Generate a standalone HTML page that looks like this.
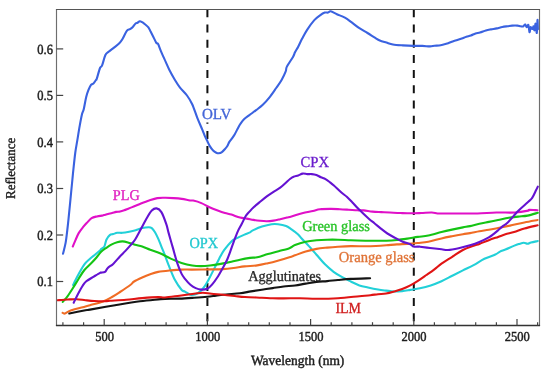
<!DOCTYPE html>
<html><head><meta charset="utf-8"><style>
html,body{margin:0;padding:0;background:#fff;}
svg{display:block;font-family:"Liberation Serif", serif;text-rendering:geometricPrecision;will-change:transform;}
</style></head><body>
<svg width="550" height="373" viewBox="0 0 550 373">
<rect x="0" y="0" width="550" height="373" fill="#fff"/>
<line x1="207.4" y1="9.3" x2="207.4" y2="325.5" stroke="#111" stroke-width="2" stroke-dasharray="8 7.2"/>
<line x1="413.8" y1="9.3" x2="413.8" y2="325.5" stroke="#111" stroke-width="2" stroke-dasharray="8 7.2"/>
<rect x="200" y="105.7" width="33" height="16.8" fill="#fff"/>
<rect x="187" y="232" width="33" height="19" fill="#fff"/>
<path d="M63.00,253.80 C63.43,251.98 64.88,246.87 65.60,242.90 C66.32,238.93 66.80,234.13 67.30,230.00 C67.80,225.87 68.07,223.30 68.60,218.10 C69.13,212.90 69.87,205.23 70.50,198.80 C71.13,192.37 71.92,184.40 72.40,179.50 C72.88,174.60 72.92,173.90 73.40,169.40 C73.88,164.90 74.65,157.33 75.30,152.50 C75.95,147.67 76.57,144.83 77.30,140.40 C78.03,135.97 78.90,130.33 79.70,125.90 C80.50,121.47 81.42,116.62 82.10,113.80 C82.78,110.98 83.12,111.82 83.80,109.00 C84.48,106.18 85.40,100.12 86.20,96.90 C87.00,93.68 87.80,91.72 88.60,89.70 C89.40,87.68 90.20,85.82 91.00,84.80 C91.80,83.78 92.58,84.40 93.40,83.60 C94.22,82.80 95.33,80.82 95.90,80.00 C96.47,79.18 96.12,80.70 96.80,78.70 C97.48,76.70 99.12,70.22 100.00,68.00 C100.88,65.78 101.20,67.57 102.10,65.40 C103.00,63.23 104.32,57.27 105.40,55.00 C106.48,52.73 107.17,53.03 108.60,51.80 C110.03,50.57 112.22,49.02 114.00,47.60 C115.78,46.18 117.88,44.73 119.30,43.30 C120.72,41.87 121.25,41.08 122.50,39.00 C123.75,36.92 125.55,32.45 126.80,30.80 C128.05,29.15 129.00,29.75 130.00,29.10 C131.00,28.45 131.87,27.83 132.80,26.90 C133.73,25.97 134.82,24.18 135.60,23.50 C136.38,22.82 136.80,23.17 137.50,22.80 C138.20,22.43 139.02,21.40 139.80,21.30 C140.58,21.20 141.33,21.70 142.20,22.20 C143.07,22.70 143.97,23.45 145.00,24.30 C146.03,25.15 147.47,26.08 148.40,27.30 C149.33,28.52 149.75,29.95 150.60,31.60 C151.45,33.25 152.55,35.33 153.50,37.20 C154.45,39.07 155.53,41.65 156.30,42.80 C157.07,43.95 157.32,42.68 158.10,44.10 C158.88,45.52 159.75,48.38 161.00,51.30 C162.25,54.22 164.20,58.48 165.60,61.60 C167.00,64.72 167.87,66.98 169.40,70.00 C170.93,73.02 173.03,76.77 174.80,79.70 C176.57,82.63 177.97,84.97 180.00,87.60 C182.03,90.23 184.97,92.73 187.00,95.50 C189.03,98.27 190.47,100.43 192.20,104.20 C193.93,107.97 195.67,113.75 197.40,118.10 C199.13,122.45 201.33,127.25 202.60,130.30 C203.87,133.35 204.20,134.57 205.00,136.40 C205.80,138.23 206.60,139.68 207.40,141.30 C208.20,142.92 208.85,144.57 209.80,146.10 C210.75,147.63 212.02,149.40 213.10,150.50 C214.18,151.60 215.37,152.23 216.30,152.70 C217.23,153.17 217.77,153.40 218.70,153.30 C219.63,153.20 220.83,152.83 221.90,152.10 C222.97,151.37 224.17,149.97 225.10,148.90 C226.03,147.83 226.82,146.83 227.50,145.70 C228.18,144.57 228.52,143.23 229.20,142.10 C229.88,140.97 230.67,140.22 231.60,138.90 C232.53,137.58 233.82,135.85 234.80,134.20 C235.78,132.55 236.58,130.70 237.50,129.00 C238.42,127.30 239.22,125.63 240.30,124.00 C241.38,122.37 242.48,120.68 244.00,119.20 C245.52,117.72 247.38,116.60 249.40,115.10 C251.42,113.60 253.87,111.92 256.10,110.20 C258.33,108.48 260.57,106.93 262.80,104.80 C265.03,102.67 267.27,100.20 269.50,97.40 C271.73,94.60 274.18,90.90 276.20,88.00 C278.22,85.10 280.02,82.77 281.60,80.00 C283.18,77.23 284.82,73.63 285.70,71.40 C286.58,69.17 285.68,69.02 286.90,66.60 C288.12,64.18 291.65,59.28 293.00,56.90 C294.35,54.52 294.13,54.00 295.00,52.30 C295.87,50.60 297.00,48.98 298.20,46.70 C299.40,44.42 300.72,41.42 302.20,38.60 C303.68,35.78 305.08,32.88 307.10,29.80 C309.12,26.72 312.15,22.52 314.30,20.10 C316.45,17.68 318.25,16.55 320.00,15.30 C321.75,14.05 323.47,13.05 324.80,12.60 C326.13,12.15 327.02,12.82 328.00,12.60 C328.98,12.38 329.22,11.03 330.70,11.30 C332.18,11.57 334.53,13.13 336.90,14.20 C339.27,15.27 342.48,16.37 344.90,17.70 C347.32,19.03 348.98,20.45 351.40,22.20 C353.82,23.95 356.72,26.40 359.40,28.20 C362.08,30.00 364.92,31.42 367.50,33.00 C370.08,34.58 372.85,36.45 374.90,37.70 C376.95,38.95 377.88,39.68 379.80,40.50 C381.72,41.32 384.22,41.93 386.40,42.60 C388.58,43.27 390.18,44.03 392.90,44.50 C395.62,44.97 399.28,45.17 402.70,45.40 C406.12,45.63 410.12,45.82 413.40,45.90 C416.68,45.98 419.63,45.82 422.40,45.90 C425.17,45.98 427.98,46.43 430.00,46.40 C432.02,46.37 432.98,45.85 434.50,45.70 C436.02,45.55 437.58,45.70 439.10,45.50 C440.62,45.30 442.08,44.88 443.60,44.50 C445.12,44.12 446.68,43.72 448.20,43.20 C449.72,42.68 451.18,41.93 452.70,41.40 C454.22,40.87 455.78,40.48 457.30,40.00 C458.82,39.52 460.28,39.03 461.80,38.50 C463.32,37.97 464.88,37.30 466.40,36.80 C467.92,36.30 469.38,36.07 470.90,35.50 C472.42,34.93 473.98,33.90 475.50,33.40 C477.02,32.90 478.27,32.98 480.00,32.50 C481.73,32.02 484.07,31.02 485.90,30.50 C487.73,29.98 489.18,29.75 491.00,29.40 C492.82,29.05 494.92,28.80 496.80,28.40 C498.68,28.00 500.48,27.37 502.30,27.00 C504.12,26.63 506.07,26.43 507.70,26.20 C509.33,25.97 510.47,25.70 512.10,25.60 C513.73,25.50 516.10,25.48 517.50,25.60 C518.90,25.72 519.58,26.17 520.50,26.30 C521.42,26.43 522.42,26.53 523.00,26.40 C523.58,26.27 523.63,25.82 524.00,25.50 C524.37,25.18 524.73,24.20 525.20,24.50 C525.67,24.80 526.27,27.23 526.80,27.30 C527.33,27.37 527.95,24.08 528.40,24.90 C528.85,25.72 529.13,31.80 529.50,32.20 C529.87,32.60 530.25,27.93 530.60,27.30 C530.95,26.67 531.23,28.13 531.60,28.40 C531.97,28.67 532.48,29.25 532.80,28.90 C533.12,28.55 533.22,26.05 533.50,26.30 C533.78,26.55 534.15,30.85 534.50,30.40 C534.85,29.95 535.22,23.17 535.60,23.60 C535.98,24.03 536.48,33.62 536.80,33.00 C537.12,32.38 537.32,20.52 537.50,19.90 C537.68,19.28 537.83,27.73 537.90,29.30" fill="none" stroke="#3a62e0" stroke-width="2.1" stroke-linejoin="round" stroke-linecap="round"/>
<path d="M72.80,246.50 C73.25,245.43 74.52,242.33 75.50,240.10 C76.48,237.87 77.45,235.25 78.70,233.10 C79.95,230.95 81.57,228.98 83.00,227.20 C84.43,225.42 85.87,223.92 87.30,222.40 C88.73,220.88 89.98,219.10 91.60,218.10 C93.22,217.10 95.27,216.82 97.00,216.40 C98.73,215.98 100.83,215.82 102.00,215.60 C103.17,215.38 103.00,215.38 104.00,215.10 C105.00,214.82 106.65,214.23 108.00,213.90 C109.35,213.57 110.75,213.43 112.10,213.10 C113.45,212.77 114.77,212.17 116.10,211.90 C117.43,211.63 118.75,211.77 120.10,211.50 C121.45,211.23 122.85,210.77 124.20,210.30 C125.55,209.83 126.87,209.23 128.20,208.70 C129.53,208.17 130.87,207.63 132.20,207.10 C133.53,206.57 134.90,206.03 136.20,205.50 C137.50,204.97 137.85,204.73 140.00,203.90 C142.15,203.07 146.22,201.47 149.10,200.50 C151.98,199.53 154.57,198.55 157.30,198.10 C160.03,197.65 162.78,197.80 165.50,197.80 C168.22,197.80 170.88,197.92 173.60,198.10 C176.32,198.28 179.07,198.50 181.80,198.90 C184.53,199.30 188.10,200.22 190.00,200.50 C191.90,200.78 191.30,200.17 193.20,200.60 C195.10,201.03 198.68,202.00 201.40,203.10 C204.12,204.20 206.78,205.97 209.50,207.20 C212.22,208.43 215.12,209.53 217.70,210.50 C220.28,211.47 222.72,212.32 225.00,213.00 C227.28,213.68 228.90,213.83 231.40,214.60 C233.90,215.37 237.45,216.93 240.00,217.60 C242.55,218.27 244.47,218.22 246.70,218.60 C248.93,218.98 251.17,219.53 253.40,219.90 C255.63,220.27 257.87,220.58 260.10,220.80 C262.33,221.02 264.57,221.23 266.80,221.20 C269.03,221.17 271.27,220.93 273.50,220.60 C275.73,220.27 277.97,219.70 280.20,219.20 C282.43,218.70 285.02,218.05 286.90,217.60 C288.78,217.15 288.95,217.23 291.50,216.50 C294.05,215.77 298.63,214.13 302.20,213.20 C305.77,212.27 309.93,211.57 312.90,210.90 C315.87,210.23 316.97,209.53 320.00,209.20 C323.03,208.87 327.80,208.90 331.10,208.90 C334.40,208.90 336.90,209.07 339.80,209.20 C342.70,209.33 345.58,209.52 348.50,209.70 C351.42,209.88 354.77,210.18 357.30,210.30 C359.83,210.42 361.17,210.18 363.70,210.40 C366.23,210.62 369.58,211.32 372.50,211.60 C375.42,211.88 378.30,211.95 381.20,212.10 C384.10,212.25 386.70,212.35 389.90,212.50 C393.10,212.65 396.92,212.87 400.40,213.00 C403.88,213.13 407.32,213.30 410.80,213.30 C414.28,213.30 417.80,213.13 421.30,213.00 C424.80,212.87 428.68,212.42 431.80,212.50 C434.92,212.58 435.50,213.33 440.00,213.50 C444.50,213.67 452.55,213.50 458.80,213.50 C465.05,213.50 471.25,213.67 477.50,213.50 C483.75,213.33 490.05,212.67 496.30,212.50 C502.55,212.33 509.68,212.82 515.00,212.50 C520.32,212.18 525.85,211.07 528.20,210.60 C530.55,210.13 527.55,209.75 529.10,209.70 C530.65,209.65 536.10,210.20 537.50,210.30" fill="none" stroke="#e010c8" stroke-width="2.1" stroke-linejoin="round" stroke-linecap="round"/>
<path d="M73.10,285.00 C73.55,284.08 74.85,281.37 75.80,279.50 C76.75,277.63 77.37,276.32 78.80,273.80 C80.23,271.28 82.53,266.90 84.40,264.40 C86.27,261.90 88.15,260.48 90.00,258.80 C91.85,257.12 93.83,255.70 95.50,254.30 C97.17,252.90 99.07,251.27 100.00,250.40 C100.93,249.53 100.37,249.77 101.10,249.10 C101.83,248.43 103.52,247.97 104.40,246.40 C105.28,244.83 105.50,241.58 106.40,239.70 C107.30,237.82 108.67,236.03 109.80,235.10 C110.93,234.17 111.97,234.48 113.20,234.10 C114.43,233.72 115.65,233.02 117.20,232.80 C118.75,232.58 120.50,232.98 122.50,232.80 C124.50,232.62 127.00,232.13 129.20,231.70 C131.40,231.27 133.53,230.80 135.70,230.20 C137.87,229.60 140.05,228.58 142.20,228.10 C144.35,227.62 147.00,227.30 148.60,227.30 C150.20,227.30 150.73,227.28 151.80,228.10 C152.87,228.92 153.93,230.45 155.00,232.20 C156.07,233.95 157.13,236.20 158.20,238.60 C159.27,241.00 160.35,244.00 161.40,246.60 C162.45,249.20 163.30,251.12 164.50,254.20 C165.70,257.28 166.85,260.78 168.60,265.10 C170.35,269.42 172.85,276.00 175.00,280.10 C177.15,284.20 179.83,287.78 181.50,289.70 C183.17,291.62 183.52,290.75 185.00,291.60 C186.48,292.45 188.62,294.35 190.40,294.80 C192.18,295.25 194.10,294.83 195.70,294.30 C197.30,293.77 198.48,292.97 200.00,291.60 C201.52,290.23 203.20,288.42 204.80,286.10 C206.40,283.78 207.98,280.70 209.60,277.70 C211.22,274.70 212.88,271.32 214.50,268.10 C216.12,264.88 217.70,261.38 219.30,258.40 C220.90,255.42 222.08,253.03 224.10,250.20 C226.12,247.37 229.28,243.40 231.40,241.40 C233.52,239.40 235.37,239.00 236.80,238.20 C238.23,237.40 238.72,237.20 240.00,236.60 C241.28,236.00 242.83,235.30 244.50,234.60 C246.17,233.90 248.70,233.07 250.00,232.40 C251.30,231.73 250.30,231.57 252.30,230.60 C254.30,229.63 258.78,227.67 262.00,226.60 C265.22,225.53 268.92,224.60 271.60,224.20 C274.28,223.80 275.68,223.88 278.10,224.20 C280.52,224.52 283.87,225.25 286.10,226.10 C288.33,226.95 289.53,227.95 291.50,229.30 C293.47,230.65 296.25,232.72 297.90,234.20 C299.55,235.68 299.73,236.40 301.40,238.20 C303.07,240.00 305.38,242.25 307.90,245.00 C310.42,247.75 313.65,251.48 316.50,254.70 C319.35,257.92 322.15,261.45 325.00,264.30 C327.85,267.15 330.73,269.65 333.60,271.80 C336.47,273.95 339.33,275.58 342.20,277.20 C345.07,278.82 347.93,280.13 350.80,281.50 C353.67,282.87 356.53,284.40 359.40,285.40 C362.27,286.40 364.90,286.82 368.00,287.50 C371.10,288.18 374.98,288.98 378.00,289.50 C381.02,290.02 383.40,290.27 386.10,290.60 C388.80,290.93 391.52,291.42 394.20,291.50 C396.88,291.58 399.52,291.37 402.20,291.10 C404.88,290.83 407.33,290.37 410.30,289.90 C413.27,289.43 416.60,289.05 420.00,288.30 C423.40,287.55 427.12,286.58 430.70,285.40 C434.28,284.22 437.92,282.80 441.50,281.20 C445.08,279.60 448.63,277.60 452.20,275.80 C455.77,274.00 459.33,272.18 462.90,270.40 C466.47,268.62 470.02,267.03 473.60,265.10 C477.18,263.17 480.78,260.57 484.40,258.80 C488.02,257.03 492.70,255.70 495.30,254.50 C497.90,253.30 498.32,252.43 500.00,251.60 C501.68,250.77 503.00,250.50 505.40,249.50 C507.80,248.50 512.13,246.52 514.40,245.60 C516.67,244.68 517.43,244.47 519.00,244.00 C520.57,243.53 522.38,242.83 523.80,242.80 C525.22,242.77 526.30,243.83 527.50,243.80 C528.70,243.77 529.28,243.07 531.00,242.60 C532.72,242.13 536.67,241.27 537.80,241.00" fill="none" stroke="#22d0d8" stroke-width="2.1" stroke-linejoin="round" stroke-linecap="round"/>
<path d="M62.80,301.90 C63.58,300.97 65.78,298.65 67.50,296.30 C69.22,293.95 71.22,290.77 73.10,287.80 C74.98,284.83 76.92,281.47 78.80,278.50 C80.68,275.53 82.22,272.67 84.40,270.00 C86.58,267.33 89.88,264.58 91.90,262.50 C93.92,260.42 94.97,259.28 96.50,257.50 C98.03,255.72 99.45,253.42 101.10,251.80 C102.75,250.18 104.62,249.03 106.40,247.80 C108.18,246.57 110.00,245.33 111.80,244.40 C113.60,243.47 115.42,242.70 117.20,242.20 C118.98,241.70 120.72,241.37 122.50,241.40 C124.28,241.43 125.82,241.83 127.90,242.40 C129.98,242.97 132.62,244.10 135.00,244.80 C137.38,245.50 139.67,245.77 142.20,246.60 C144.73,247.43 147.23,248.68 150.20,249.80 C153.17,250.92 156.58,251.83 160.00,253.30 C163.42,254.77 167.12,257.00 170.70,258.60 C174.28,260.20 177.92,261.75 181.50,262.90 C185.08,264.05 188.97,264.97 192.20,265.50 C195.43,266.03 197.93,266.10 200.90,266.10 C203.87,266.10 206.70,265.87 210.00,265.50 C213.30,265.13 217.13,264.52 220.70,263.90 C224.27,263.28 228.18,262.50 231.40,261.80 C234.62,261.10 236.90,260.35 240.00,259.70 C243.10,259.05 247.13,258.32 250.00,257.90 C252.87,257.48 254.22,257.85 257.20,257.20 C260.18,256.55 264.33,255.00 267.90,254.00 C271.47,253.00 275.02,252.17 278.60,251.20 C282.18,250.23 286.67,249.23 289.40,248.20 C292.13,247.17 292.28,246.07 295.00,245.00 C297.72,243.93 302.12,242.58 305.70,241.80 C309.28,241.02 312.92,240.65 316.50,240.30 C320.08,239.95 323.63,239.80 327.20,239.70 C330.77,239.60 333.97,239.60 337.90,239.70 C341.83,239.80 346.20,240.13 350.80,240.30 C355.40,240.47 361.32,240.63 365.50,240.70 C369.68,240.77 372.42,240.70 375.90,240.70 C379.38,240.70 382.90,240.82 386.40,240.70 C389.90,240.58 393.40,240.35 396.90,240.00 C400.40,239.65 403.92,239.12 407.40,238.60 C410.88,238.08 414.32,237.42 417.80,236.90 C421.28,236.38 424.35,236.32 428.30,235.50 C432.25,234.68 437.55,232.98 441.50,232.00 C445.45,231.02 448.43,230.37 452.00,229.60 C455.57,228.83 459.90,227.98 462.90,227.40 C465.90,226.82 467.25,226.70 470.00,226.10 C472.75,225.50 476.27,224.50 479.40,223.80 C482.53,223.10 485.68,222.53 488.80,221.90 C491.92,221.27 494.77,220.68 498.10,220.00 C501.43,219.32 505.47,218.37 508.80,217.80 C512.13,217.23 514.98,216.97 518.10,216.60 C521.22,216.23 524.22,216.23 527.50,215.60 C530.78,214.97 536.08,213.27 537.80,212.80" fill="none" stroke="#14c414" stroke-width="2.1" stroke-linejoin="round" stroke-linecap="round"/>
<path d="M62.60,312.80 C62.97,312.92 63.45,313.87 64.80,313.50 C66.15,313.13 67.25,311.77 70.70,310.60 C74.15,309.43 82.28,307.40 85.50,306.50 C88.72,305.60 87.07,306.05 90.00,305.20 C92.93,304.35 99.43,302.77 103.10,301.40 C106.77,300.03 109.18,298.57 112.00,297.00 C114.82,295.43 116.95,294.00 120.00,292.00 C123.05,290.00 127.95,286.75 130.30,285.00 C132.65,283.25 132.12,282.75 134.10,281.50 C136.08,280.25 139.52,278.70 142.20,277.50 C144.88,276.30 147.53,275.23 150.20,274.30 C152.87,273.37 154.78,272.55 158.20,271.90 C161.62,271.25 166.82,270.78 170.70,270.40 C174.58,270.02 177.92,269.73 181.50,269.60 C185.08,269.47 187.15,269.63 192.20,269.60 C197.25,269.57 206.72,269.48 211.80,269.40 C216.88,269.32 219.07,269.33 222.70,269.10 C226.33,268.87 229.97,268.45 233.60,268.00 C237.23,267.55 240.57,266.83 244.50,266.40 C248.43,265.97 253.30,265.93 257.20,265.40 C261.10,264.87 264.33,264.03 267.90,263.20 C271.47,262.37 275.02,261.40 278.60,260.40 C282.18,259.40 286.67,258.05 289.40,257.20 C292.13,256.35 292.28,256.25 295.00,255.30 C297.72,254.35 302.12,252.57 305.70,251.50 C309.28,250.43 312.92,249.55 316.50,248.90 C320.08,248.25 323.63,247.97 327.20,247.60 C330.77,247.23 333.97,246.95 337.90,246.70 C341.83,246.45 346.20,246.17 350.80,246.10 C355.40,246.03 361.32,246.32 365.50,246.30 C369.68,246.28 372.42,246.17 375.90,246.00 C379.38,245.83 382.90,245.57 386.40,245.30 C389.90,245.03 393.40,244.63 396.90,244.40 C400.40,244.17 403.92,244.13 407.40,243.90 C410.88,243.67 414.32,243.35 417.80,243.00 C421.28,242.65 424.35,242.57 428.30,241.80 C432.25,241.03 437.55,239.33 441.50,238.40 C445.45,237.47 448.43,236.90 452.00,236.20 C455.57,235.50 459.90,234.72 462.90,234.20 C465.90,233.68 467.25,233.58 470.00,233.10 C472.75,232.62 476.27,231.85 479.40,231.30 C482.53,230.75 485.68,230.35 488.80,229.80 C491.92,229.25 494.57,228.70 498.10,228.00 C501.63,227.30 505.62,226.52 510.00,225.60 C514.38,224.68 519.80,223.43 524.40,222.50 C529.00,221.57 535.40,220.42 537.60,220.00" fill="none" stroke="#f06c24" stroke-width="2.1" stroke-linejoin="round" stroke-linecap="round"/>
<path d="M69.30,313.50 C72.00,312.97 82.05,310.95 85.50,310.30 C88.95,309.65 85.08,310.45 90.00,309.60 C94.92,308.75 106.67,306.60 115.00,305.20 C123.33,303.80 132.80,302.17 140.00,301.20 C147.20,300.23 154.03,299.78 158.20,299.40 C162.37,299.02 161.45,299.03 165.00,298.90 C168.55,298.77 174.65,298.80 179.50,298.60 C184.35,298.40 189.48,298.02 194.10,297.70 C198.72,297.38 203.57,297.03 207.20,296.70 C210.83,296.37 212.75,296.07 215.90,295.70 C219.05,295.33 222.08,294.90 226.10,294.50 C230.12,294.10 235.87,293.82 240.00,293.30 C244.13,292.78 247.27,292.00 250.90,291.40 C254.53,290.80 258.17,290.25 261.80,289.70 C265.43,289.15 269.07,288.63 272.70,288.10 C276.33,287.57 279.88,286.93 283.60,286.50 C287.32,286.07 291.32,285.98 295.00,285.50 C298.68,285.02 302.12,284.20 305.70,283.60 C309.28,283.00 312.92,282.32 316.50,281.90 C320.08,281.48 323.63,281.42 327.20,281.10 C330.77,280.78 333.97,280.37 337.90,280.00 C341.83,279.63 345.43,279.18 350.80,278.90 C356.17,278.62 366.88,278.40 370.10,278.30" fill="none" stroke="#141414" stroke-width="2.1" stroke-linejoin="round" stroke-linecap="round"/>
<path d="M57.50,300.20 C59.22,300.08 64.62,299.67 67.80,299.50 C70.98,299.33 73.65,299.08 76.60,299.20 C79.55,299.32 82.55,299.90 85.50,300.20 C88.45,300.50 91.35,300.82 94.30,301.00 C97.25,301.18 100.58,301.33 103.20,301.30 C105.82,301.27 106.18,301.07 110.00,300.80 C113.82,300.53 120.73,300.15 126.10,299.70 C131.47,299.25 136.85,298.53 142.20,298.10 C147.55,297.67 154.40,297.20 158.20,297.10 C162.00,297.00 161.45,297.73 165.00,297.50 C168.55,297.27 174.65,296.32 179.50,295.70 C184.35,295.08 190.22,294.28 194.10,293.80 C197.98,293.32 199.90,292.80 202.80,292.80 C205.70,292.80 208.10,293.47 211.50,293.80 C214.90,294.13 219.32,294.43 223.20,294.80 C227.08,295.17 231.17,295.63 234.80,296.00 C238.43,296.37 240.50,296.72 245.00,297.00 C249.50,297.28 257.18,297.50 261.80,297.70 C266.42,297.90 269.07,298.08 272.70,298.20 C276.33,298.32 279.05,298.40 283.60,298.40 C288.15,298.40 294.52,298.15 300.00,298.20 C305.48,298.25 310.18,298.70 316.50,298.70 C322.82,298.70 330.75,298.62 337.90,298.20 C345.05,297.78 353.98,296.70 359.40,296.20 C364.82,295.70 367.30,295.53 370.40,295.20 C373.50,294.87 375.38,294.48 378.00,294.20 C380.62,293.92 383.40,293.95 386.10,293.50 C388.80,293.05 391.52,292.25 394.20,291.50 C396.88,290.75 399.52,290.02 402.20,289.00 C404.88,287.98 407.62,286.80 410.30,285.40 C412.98,284.00 415.62,282.33 418.30,280.60 C420.98,278.87 423.72,276.88 426.40,275.00 C429.08,273.12 431.88,271.20 434.40,269.30 C436.92,267.40 438.53,265.68 441.50,263.60 C444.47,261.52 448.63,259.07 452.20,256.80 C455.77,254.53 459.33,251.83 462.90,250.00 C466.47,248.17 470.85,246.82 473.60,245.80 C476.35,244.78 476.87,244.83 479.40,243.90 C481.93,242.97 485.68,241.37 488.80,240.20 C491.92,239.03 495.33,237.88 498.10,236.90 C500.87,235.92 502.73,235.10 505.40,234.30 C508.07,233.50 510.93,233.07 514.10,232.10 C517.27,231.13 520.48,229.63 524.40,228.50 C528.32,227.37 535.40,225.83 537.60,225.30" fill="none" stroke="#e01414" stroke-width="2.1" stroke-linejoin="round" stroke-linecap="round"/>
<path d="M73.70,302.70 C74.55,301.00 77.33,295.28 78.80,292.50 C80.27,289.72 81.25,287.87 82.50,286.00 C83.75,284.13 84.42,282.87 86.30,281.30 C88.18,279.73 91.52,278.02 93.80,276.60 C96.08,275.18 98.78,273.47 100.00,272.80 C101.22,272.13 100.25,272.75 101.10,272.60 C101.95,272.45 103.98,272.68 105.10,271.90 C106.22,271.12 106.45,269.23 107.80,267.90 C109.15,266.57 111.18,265.80 113.20,263.90 C115.22,262.00 117.90,258.63 119.90,256.50 C121.90,254.37 123.42,253.00 125.20,251.10 C126.98,249.20 128.97,247.00 130.60,245.10 C132.23,243.20 133.35,242.27 135.00,239.70 C136.65,237.13 138.50,233.37 140.50,229.70 C142.50,226.03 145.12,220.90 147.00,217.70 C148.88,214.50 150.20,212.05 151.80,210.50 C153.40,208.95 155.00,208.13 156.60,208.40 C158.20,208.67 159.78,209.48 161.40,212.10 C163.02,214.72 165.10,220.63 166.30,224.10 C167.50,227.57 167.50,228.93 168.60,232.90 C169.70,236.87 171.47,242.90 172.90,247.90 C174.33,252.90 175.77,258.62 177.20,262.90 C178.63,267.18 180.20,270.95 181.50,273.60 C182.80,276.25 183.52,276.95 185.00,278.80 C186.48,280.65 188.62,283.15 190.40,284.70 C192.18,286.25 193.92,287.28 195.70,288.10 C197.48,288.92 199.18,289.48 201.10,289.60 C203.02,289.72 205.38,289.63 207.20,288.80 C209.02,287.97 210.18,286.70 212.00,284.60 C213.82,282.50 216.35,278.88 218.10,276.20 C219.85,273.52 221.00,271.25 222.50,268.50 C224.00,265.75 225.78,262.60 227.10,259.70 C228.42,256.80 229.30,254.08 230.40,251.10 C231.50,248.12 232.48,245.05 233.70,241.80 C234.92,238.55 236.35,234.60 237.70,231.60 C239.05,228.60 240.48,226.37 241.80,223.80 C243.12,221.23 244.28,218.27 245.60,216.20 C246.92,214.13 248.40,212.85 249.70,211.40 C251.00,209.95 251.67,209.10 253.40,207.50 C255.13,205.90 257.87,203.65 260.10,201.80 C262.33,199.95 264.57,198.07 266.80,196.40 C269.03,194.73 271.27,193.25 273.50,191.80 C275.73,190.35 278.18,189.17 280.20,187.70 C282.22,186.23 283.97,184.45 285.60,183.00 C287.23,181.55 288.67,180.03 290.00,179.00 C291.33,177.97 292.23,177.38 293.60,176.80 C294.97,176.22 296.68,176.03 298.20,175.50 C299.72,174.97 301.18,173.83 302.70,173.60 C304.22,173.37 305.78,174.02 307.30,174.10 C308.82,174.18 310.28,173.95 311.80,174.10 C313.32,174.25 314.88,174.47 316.40,175.00 C317.92,175.53 319.38,176.62 320.90,177.30 C322.42,177.98 323.98,178.27 325.50,179.10 C327.02,179.93 328.60,181.23 330.00,182.30 C331.40,183.37 332.00,183.80 333.90,185.50 C335.80,187.20 339.25,190.62 341.40,192.50 C343.55,194.38 345.00,195.18 346.80,196.80 C348.60,198.42 350.23,200.15 352.20,202.20 C354.17,204.25 355.83,206.33 358.60,209.10 C361.37,211.87 366.17,216.45 368.80,218.80 C371.43,221.15 372.38,221.57 374.40,223.20 C376.42,224.83 378.73,226.88 380.90,228.60 C383.07,230.32 385.03,231.95 387.40,233.50 C389.77,235.05 392.55,236.53 395.10,237.90 C397.65,239.27 400.17,240.65 402.70,241.70 C405.23,242.75 408.48,243.38 410.30,244.20 C412.12,245.02 412.13,246.20 413.60,246.60 C415.07,247.00 418.03,246.57 419.10,246.60 C420.17,246.63 418.18,246.57 420.00,246.80 C421.82,247.03 426.42,247.58 430.00,248.00 C433.58,248.42 438.50,248.97 441.50,249.30 C444.50,249.63 445.15,250.18 448.00,250.00 C450.85,249.82 454.93,248.98 458.60,248.20 C462.27,247.42 466.53,246.33 470.00,245.30 C473.47,244.27 476.27,243.32 479.40,242.00 C482.53,240.68 486.45,238.72 488.80,237.40 C491.15,236.08 491.95,235.28 493.50,234.10 C495.05,232.92 496.55,231.63 498.10,230.30 C499.65,228.97 501.23,227.35 502.80,226.10 C504.37,224.85 504.95,225.32 507.50,222.80 C510.05,220.28 514.77,214.38 518.10,211.00 C521.43,207.62 525.15,204.70 527.50,202.50 C529.85,200.30 530.78,199.83 532.20,197.80 C533.62,195.77 535.07,192.17 536.00,190.30 C536.93,188.43 537.50,187.22 537.80,186.60" fill="none" stroke="#6412d2" stroke-width="2.1" stroke-linejoin="round" stroke-linecap="round"/>
<path d="M56.5,325.5 V9.5 M539.5,9.5 V325.5" fill="none" stroke="#6e6e6e" stroke-width="1.15"/>
<line x1="55.95" y1="9.5" x2="540.05" y2="9.5" stroke="#555" stroke-width="1.1"/>
<line x1="55.9" y1="325.5" x2="540.1" y2="325.5" stroke="#333" stroke-width="1.3"/>
<line x1="56.5" y1="281.5" x2="63.2" y2="281.5" stroke="#444" stroke-width="1.2"/>
<line x1="56.5" y1="235.0" x2="63.2" y2="235.0" stroke="#444" stroke-width="1.2"/>
<line x1="56.5" y1="188.5" x2="63.2" y2="188.5" stroke="#444" stroke-width="1.2"/>
<line x1="56.5" y1="141.9" x2="63.2" y2="141.9" stroke="#444" stroke-width="1.2"/>
<line x1="56.5" y1="95.4" x2="63.2" y2="95.4" stroke="#444" stroke-width="1.2"/>
<line x1="56.5" y1="48.9" x2="63.2" y2="48.9" stroke="#444" stroke-width="1.2"/>
<line x1="62.9" y1="325.5" x2="62.9" y2="322.2" stroke="#444" stroke-width="1.2"/>
<line x1="83.6" y1="325.5" x2="83.6" y2="322.2" stroke="#444" stroke-width="1.2"/>
<line x1="104.2" y1="325.5" x2="104.2" y2="319.0" stroke="#444" stroke-width="1.2"/>
<line x1="124.8" y1="325.5" x2="124.8" y2="322.2" stroke="#444" stroke-width="1.2"/>
<line x1="145.5" y1="325.5" x2="145.5" y2="322.2" stroke="#444" stroke-width="1.2"/>
<line x1="166.1" y1="325.5" x2="166.1" y2="322.2" stroke="#444" stroke-width="1.2"/>
<line x1="186.8" y1="325.5" x2="186.8" y2="322.2" stroke="#444" stroke-width="1.2"/>
<line x1="207.4" y1="325.5" x2="207.4" y2="319.0" stroke="#444" stroke-width="1.2"/>
<line x1="228.0" y1="325.5" x2="228.0" y2="322.2" stroke="#444" stroke-width="1.2"/>
<line x1="248.7" y1="325.5" x2="248.7" y2="322.2" stroke="#444" stroke-width="1.2"/>
<line x1="269.3" y1="325.5" x2="269.3" y2="322.2" stroke="#444" stroke-width="1.2"/>
<line x1="290.0" y1="325.5" x2="290.0" y2="322.2" stroke="#444" stroke-width="1.2"/>
<line x1="310.6" y1="325.5" x2="310.6" y2="319.0" stroke="#444" stroke-width="1.2"/>
<line x1="331.2" y1="325.5" x2="331.2" y2="322.2" stroke="#444" stroke-width="1.2"/>
<line x1="351.9" y1="325.5" x2="351.9" y2="322.2" stroke="#444" stroke-width="1.2"/>
<line x1="372.5" y1="325.5" x2="372.5" y2="322.2" stroke="#444" stroke-width="1.2"/>
<line x1="393.2" y1="325.5" x2="393.2" y2="322.2" stroke="#444" stroke-width="1.2"/>
<line x1="413.8" y1="325.5" x2="413.8" y2="319.0" stroke="#444" stroke-width="1.2"/>
<line x1="434.4" y1="325.5" x2="434.4" y2="322.2" stroke="#444" stroke-width="1.2"/>
<line x1="455.1" y1="325.5" x2="455.1" y2="322.2" stroke="#444" stroke-width="1.2"/>
<line x1="475.7" y1="325.5" x2="475.7" y2="322.2" stroke="#444" stroke-width="1.2"/>
<line x1="496.4" y1="325.5" x2="496.4" y2="322.2" stroke="#444" stroke-width="1.2"/>
<line x1="517.0" y1="325.5" x2="517.0" y2="319.0" stroke="#444" stroke-width="1.2"/>
<line x1="537.6" y1="325.5" x2="537.6" y2="322.2" stroke="#444" stroke-width="1.2"/>
<text transform="translate(53.00,286.10) scale(0.9,1)" text-anchor="end" font-size="13.9" fill="#1e1e1e" stroke="#1e1e1e" stroke-width="0.45">0.1</text>
<text transform="translate(53.00,239.58) scale(0.9,1)" text-anchor="end" font-size="13.9" fill="#1e1e1e" stroke="#1e1e1e" stroke-width="0.45">0.2</text>
<text transform="translate(53.00,193.06) scale(0.9,1)" text-anchor="end" font-size="13.9" fill="#1e1e1e" stroke="#1e1e1e" stroke-width="0.45">0.3</text>
<text transform="translate(53.00,146.54) scale(0.9,1)" text-anchor="end" font-size="13.9" fill="#1e1e1e" stroke="#1e1e1e" stroke-width="0.45">0.4</text>
<text transform="translate(53.00,100.02) scale(0.9,1)" text-anchor="end" font-size="13.9" fill="#1e1e1e" stroke="#1e1e1e" stroke-width="0.45">0.5</text>
<text transform="translate(53.00,53.50) scale(0.9,1)" text-anchor="end" font-size="13.9" fill="#1e1e1e" stroke="#1e1e1e" stroke-width="0.45">0.6</text>
<text transform="translate(104.50,341.30) scale(0.92,1)" text-anchor="middle" font-size="13.6" fill="#1e1e1e" stroke="#1e1e1e" stroke-width="0.45">500</text>
<text transform="translate(207.70,341.30) scale(0.92,1)" text-anchor="middle" font-size="13.6" fill="#1e1e1e" stroke="#1e1e1e" stroke-width="0.45">1000</text>
<text transform="translate(310.90,341.30) scale(0.92,1)" text-anchor="middle" font-size="13.6" fill="#1e1e1e" stroke="#1e1e1e" stroke-width="0.45">1500</text>
<text transform="translate(414.10,341.30) scale(0.92,1)" text-anchor="middle" font-size="13.6" fill="#1e1e1e" stroke="#1e1e1e" stroke-width="0.45">2000</text>
<text transform="translate(517.30,341.30) scale(0.92,1)" text-anchor="middle" font-size="13.6" fill="#1e1e1e" stroke="#1e1e1e" stroke-width="0.45">2500</text>
<text transform="translate(251.00,364.80) scale(0.96,1)" text-anchor="start" font-size="14.0" fill="#1e1e1e" stroke="#1e1e1e" stroke-width="0.45">Wavelength (nm)</text>
<text transform="translate(15.2,199) rotate(-90) scale(0.96,1)" font-size="13.5" fill="#1e1e1e" stroke="#1e1e1e" stroke-width="0.4">Reflectance</text>
<text transform="translate(201.90,118.90) scale(0.98,1)" text-anchor="start" font-size="15.4" fill="#4466d8" stroke="#4466d8" stroke-width="0.35">OLV</text>
<text transform="translate(300.60,166.80) scale(0.95,1)" text-anchor="start" font-size="15.4" fill="#6a1ccc" stroke="#6a1ccc" stroke-width="0.35">CPX</text>
<text transform="translate(112.80,199.90) scale(0.95,1)" text-anchor="start" font-size="15.0" fill="#e020c0" stroke="#e020c0" stroke-width="0.35">PLG</text>
<text transform="translate(189.50,247.60) scale(0.93,1)" text-anchor="start" font-size="15.4" fill="#22c8d0" stroke="#22c8d0" stroke-width="0.35">OPX</text>
<text transform="translate(302.20,231.00) scale(0.95,1)" text-anchor="start" font-size="15.2" fill="#28c428" stroke="#28c428" stroke-width="0.35">Green glass</text>
<text transform="translate(338.80,261.80) scale(0.96,1)" text-anchor="start" font-size="15.2" fill="#e07438" stroke="#e07438" stroke-width="0.35">Orange glass</text>
<text transform="translate(248.20,280.80) scale(0.95,1)" text-anchor="start" font-size="15.0" fill="#2a2a2a" stroke="#2a2a2a" stroke-width="0.35">Agglutinates</text>
<text transform="translate(335.40,313.10) scale(0.91,1)" text-anchor="start" font-size="15.4" fill="#d02020" stroke="#d02020" stroke-width="0.35">ILM</text>
</svg>
</body></html>
